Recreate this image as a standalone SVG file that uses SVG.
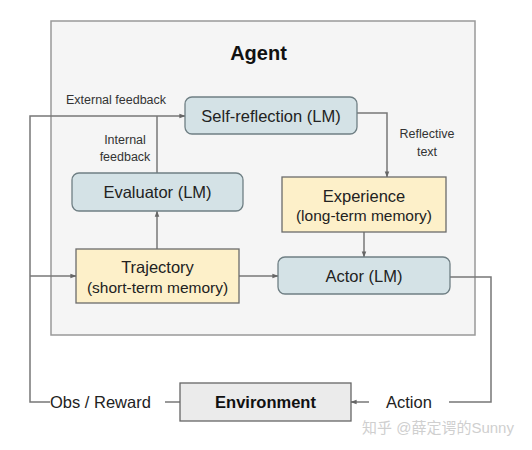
<svg xmlns="http://www.w3.org/2000/svg" width="532" height="450" viewBox="0 0 532 450">
<defs>
<marker id="ah" viewBox="0 0 8 8" refX="7.5" refY="4" markerWidth="6" markerHeight="6" orient="auto" markerUnits="userSpaceOnUse">
<path d="M0,1 L8,4 L0,7 Z" fill="#666"/>
</marker>
<style>
text{font-family:"Liberation Sans",Arial,sans-serif;fill:#222;}
.node{font-size:16.5px;text-anchor:middle;}
.sub{font-size:15.5px;}
.small{font-size:12.5px;text-anchor:middle;fill:#333;}
.blue{fill:#d4e2e6;stroke:#6f7f84;stroke-width:1.3;}
.yellow{fill:#fdf0c9;stroke:#6b6b6b;stroke-width:1.3;}
.conn{fill:none;stroke:#777;stroke-width:1.5;}
.arr{marker-end:url(#ah);}
</style>
</defs>
<rect width="532" height="450" fill="#fff"/>
<g id="agent">
<rect x="51" y="21" width="424" height="314" fill="#f5f5f5" stroke="#999" stroke-width="1.5"/>
<text x="258.5" y="60" style="font-size:20px;font-weight:bold;text-anchor:middle;fill:#111;">Agent</text>
</g>
<g id="connectors">
<polyline class="conn" points="165,402 180,402"/>
<polyline class="conn arr" points="50,402 30,402 30,116 185,116"/>
<polyline class="conn arr" points="30,276 76,276"/>
<polyline class="conn" points="157,173 157,116"/>
<polyline class="conn arr" points="157,249 157,211"/>
<polyline class="conn arr" points="357,113 387,113 387,177"/>
<polyline class="conn arr" points="364,232 364,257"/>
<polyline class="conn arr" points="239,276 278,276"/>
<polyline class="conn" points="450,277 491,277 491,402 449,402"/>
<polyline class="conn arr" points="369,402 351,402"/>
<text class="small" x="116" y="104">External feedback</text>
<text class="small" x="125" y="144">Internal</text>
<text class="small" x="125" y="161">feedback</text>
<text class="small" x="427" y="138">Reflective</text>
<text class="small" x="427" y="156">text</text>
<text x="50" y="408" style="font-size:16.5px;">Obs / Reward</text>
<text x="386" y="408" style="font-size:16.5px;">Action</text>
</g>
<g id="self-reflection">
<rect class="blue" x="185" y="97" width="172" height="37" rx="7"/>
<text class="node" x="271" y="121.5">Self-reflection (LM)</text>
</g>
<g id="evaluator">
<rect class="blue" x="72" y="173" width="171" height="38" rx="7"/>
<text class="node" x="157.5" y="198">Evaluator (LM)</text>
</g>
<g id="experience">
<rect class="yellow" x="282" y="177" width="164" height="55"/>
<text class="node" x="364" y="202">Experience</text>
<text class="node sub" x="364" y="221">(long-term memory)</text>
</g>
<g id="trajectory">
<rect class="yellow" x="76" y="249" width="163" height="54"/>
<text class="node" x="157.5" y="273">Trajectory</text>
<text class="node sub" x="157.5" y="293">(short-term memory)</text>
</g>
<g id="actor">
<rect class="blue" x="278" y="257" width="172" height="37" rx="7"/>
<text class="node" x="364" y="282">Actor (LM)</text>
</g>
<g id="environment">
<rect x="180" y="383" width="171" height="38" fill="#ebebeb" stroke="#666" stroke-width="1.3"/>
<text class="node" x="265.5" y="408" style="font-weight:bold;fill:#111;">Environment</text>
</g>
<text x="362" y="433" style="font-family:'Liberation Sans','Noto Sans CJK SC',sans-serif;font-size:15px;fill:#cfcfcf;">知乎 @薛定谔的Sunny</text>
</svg>
